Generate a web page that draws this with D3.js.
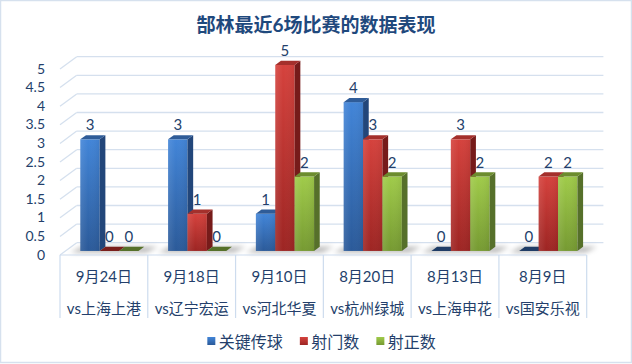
<!DOCTYPE html>
<html><head><meta charset="utf-8">
<script src="https://cdn.jsdelivr.net/npm/d3@7/dist/d3.min.js"></script>
<style>html,body{margin:0;padding:0;background:#fff;}svg{display:block;}</style>
</head><body>
<svg id="c" width="632" height="364"></svg>
<script>
const title = "郜林最近6场比赛的数据表现";
const dates = ["9月24日","9月18日","9月10日","8月20日","8月13日","8月9日"];
const opponents = ["vs上海上港","vs辽宁宏运","vs河北华夏","vs杭州绿城","vs上海申花","vs国安乐视"];
const seriesNames = ["关键传球","射门数","射正数"];
const keyPasses = [3,3,1,4,0,0];
const shots = [0,1,5,3,3,2];
const shotsOnTarget = [0,0,2,2,2,2];
const yTicks = [0,0.5,1,1.5,2,2.5,3,3.5,4,4.5,5];

const seriesValues = [keyPasses, shots, shotsOnTarget];
const font = "Lato,'Noto Sans CJK SC','Noto Sans',sans-serif";
const textColor = "#243f6b";

const svg = d3.select("#c");
const defs = svg.append("defs");

const pal = [
  {ft:"#4285d8", fb:"#2b5a99", side:"#22467a", top:"#2f5c98", flat:"#1f3c66"},
  {ft:"#d5423d", fb:"#9d2523", side:"#761b1a", top:"#a4302c", flat:"#7a1f1c"},
  {ft:"#a0cb4a", fb:"#769a32", side:"#56702a", top:"#6c8c2e", flat:"#56712a"}
];
pal.forEach((p,i)=>{
  const g = defs.append("linearGradient").attr("id","gf"+i).attr("x1",0).attr("y1",0).attr("x2",0).attr("y2",1);
  g.append("stop").attr("offset","0%").attr("stop-color",p.ft);
  g.append("stop").attr("offset","100%").attr("stop-color",p.fb);
  const h = defs.append("linearGradient").attr("id","gh"+i).attr("x1",0).attr("y1",0).attr("x2",1).attr("y2",0);
  h.append("stop").attr("offset","0%").attr("stop-color","#fff").attr("stop-opacity",0.10);
  h.append("stop").attr("offset","40%").attr("stop-color","#fff").attr("stop-opacity",0);
  h.append("stop").attr("offset","100%").attr("stop-color","#000").attr("stop-opacity",0.06);
});
defs.append("filter").attr("id","blur").attr("x","-50%").attr("y","-200%").attr("width","200%").attr("height","500%")
  .append("feGaussianBlur").attr("stdDeviation",2.6);

// outer border
svg.append("rect").attr("x",0.5).attr("y",0.5).attr("width",631).attr("height",362)
  .attr("fill","#fff").attr("stroke","#d6e1ee").attr("stroke-width",1.5);

// 3D geometry
const DX = -16.7, DY = 12.3;
const dFront = 0.67, dBack = 0.33;
const yB = d3.scaleLinear().domain([0,5]).range([242.7,56.7]);
const xB = d3.scaleBand().domain(d3.range(dates.length)).range([76.7,603.4]).padding(0);
const groupW = 58.2;
const xIn = d3.scaleBand().domain(d3.range(seriesNames.length)).range([0,groupW]).padding(0);
const P = (x,v,d) => [x + DX*d, yB(v) + DY*d];
const poly = pts => pts.map(p=>p.join(",")).join(" ");

// gridlines: back wall + left wall
const grid = svg.append("g").attr("stroke","#d5e0ee").attr("stroke-width",1.3).attr("fill","none");
yTicks.forEach(v=>{
  grid.append("line").attr("x1",xB.range()[0]).attr("x2",xB.range()[1]).attr("y1",yB(v)).attr("y2",yB(v));
  const a = P(xB.range()[0],v,0), b = P(xB.range()[0],v,1);
  grid.append("line").attr("x1",a[0]).attr("y1",a[1]).attr("x2",b[0]).attr("y2",b[1]);
});

// y labels (front edge)
svg.append("g").selectAll("text").data(yTicks).join("text")
  .attr("x",45).attr("y",v=>P(0,v,1)[1]-1).attr("text-anchor","end").attr("dominant-baseline","central")
  .attr("font-family",font).attr("font-size",14).attr("fill",textColor).text(d=>d);

// shadows
const shadowG = svg.append("g").attr("filter","url(#blur)");
dates.forEach((d,i)=>{
  const gx = xB(i) + (xB.bandwidth()-groupW)/2;
  const pts = [P(gx-8,0,dFront+0.12), P(gx+groupW+10,0,dFront+0.12), P(gx+groupW+14,0,dBack), P(gx-4,0,dBack)];
  shadowG.append("polygon").attr("points",poly(pts)).attr("fill","#000").attr("opacity",0.28);
});

// bars
const barsG = svg.append("g");
const labelsG = svg.append("g");
dates.forEach((d,i)=>{
  const gx = xB(i) + (xB.bandwidth()-groupW)/2;
  seriesValues.forEach((vals,s)=>{
    const v = vals[i];
    const x0 = gx + xIn(s), x1 = x0 + xIn.bandwidth();
    const p = pal[s];
    const g = barsG.append("g");
    if (v > 0) {
      const f0 = P(x0,v,dFront), f1 = P(x1,0,dFront);
      g.append("rect").attr("x",f0[0]).attr("y",f0[1]).attr("width",f1[0]-f0[0]).attr("height",f1[1]-f0[1])
        .attr("fill",`url(#gf${s})`);
      g.append("rect").attr("x",f0[0]).attr("y",f0[1]).attr("width",f1[0]-f0[0]).attr("height",f1[1]-f0[1])
        .attr("fill",`url(#gh${s})`);
      g.append("polygon").attr("points",poly([P(x1,0,dFront),P(x1,v,dFront),P(x1,v,dBack),P(x1,0,dBack)])).attr("fill",p.side);
      g.append("polygon").attr("points",poly([P(x0,v,dFront),P(x1,v,dFront),P(x1,v,dBack),P(x0,v,dBack)])).attr("fill",p.top);
    } else {
      g.append("polygon").attr("points",poly([P(x0,0,dFront),P(x1,0,dFront),P(x1,0,dBack),P(x0,0,dBack)])).attr("fill",p.flat);
    }
    const lp = P((x0+x1)/2, v, dFront);
    labelsG.append("text").attr("x",lp[0]).attr("y",lp[1]-15).attr("text-anchor","middle").attr("dominant-baseline","central")
      .attr("font-family",font).attr("font-size",15).attr("fill",textColor).text(v);
  });
});

// category table
const xF0 = xB.range()[0] + DX, xF1 = xB.range()[1] + DX;
const tableTop = P(0,0,1)[1];
const tbl = svg.append("g").attr("stroke","#cddcee").attr("stroke-width",1.2);
tbl.append("line").attr("x1",xF0).attr("x2",xF1).attr("y1",tableTop).attr("y2",tableTop);
d3.range(dates.length+1).forEach(i=>{
  const x = xB.range()[0] + i*xB.step() + DX;
  tbl.append("line").attr("x1",x).attr("x2",x).attr("y1",tableTop).attr("y2",318);
});
const cat = svg.append("g").attr("font-family",font).attr("font-size",15).attr("fill",textColor).attr("text-anchor","middle");
dates.forEach((d,i)=>{
  const cx = xB(i) + xB.bandwidth()/2 + DX;
  cat.append("text").attr("x",cx).attr("y",276).attr("dominant-baseline","central").text(d);
  cat.append("text").attr("x",cx).attr("y",308).attr("dominant-baseline","central").text(opponents[i]);
});

// title
svg.append("text").attr("x",316).attr("y",24.5).attr("text-anchor","middle").attr("dominant-baseline","central")
  .attr("font-family",font).attr("font-size",19).attr("font-weight","bold").attr("fill","#1f497d").text(title);

// legend
const leg = svg.append("g");
let lx = 0;
const items = [];
seriesNames.forEach((n,s)=>{
  const it = leg.append("g");
  it.append("rect").attr("x",0).attr("y",-4).attr("width",8).attr("height",8).attr("fill",`url(#gf${s})`);
  const t = it.append("text").attr("x",11.5).attr("y",0).attr("dominant-baseline","central")
    .attr("font-family",font).attr("font-size",16).attr("fill",textColor).text(n);
  const w = 11.5 + t.node().getComputedTextLength();
  items.push({it,x:lx});
  lx += w + 17;
});
const total = lx - 17;
const lstart = 321.6 - total/2;
items.forEach(o=>o.it.attr("transform",`translate(${lstart+o.x},341)`));
</script>
</body></html>
